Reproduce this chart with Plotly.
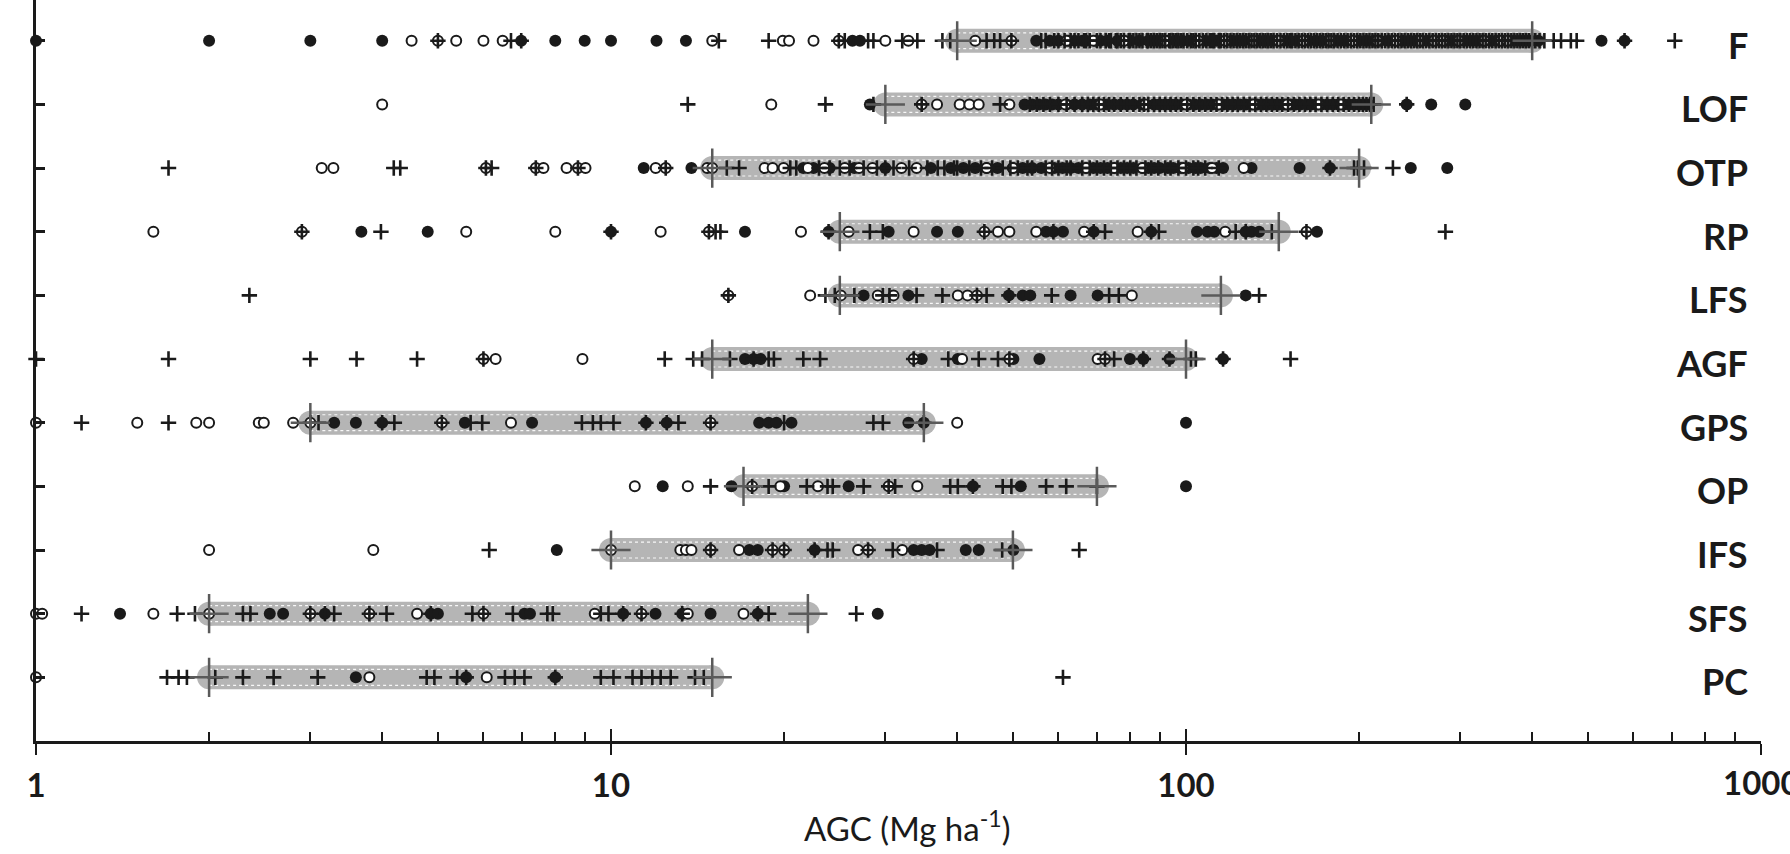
import plotly.graph_objects as go

# ---------------- data (AGC, Mg ha-1) ----------------
categories = ["F", "LOF", "OTP", "RP", "LFS", "AGF", "GPS", "OP", "IFS", "SFS", "PC"]
band_low = [40, 30, 15, 25, 25, 15, 3, 17, 10, 2, 2]
band_high = [400, 210, 200, 145, 115, 100, 35, 70, 50, 22, 15]

F_filled = [1, 2, 3, 4, 6.98, 8, 9, 10, 12, 13.5, 26.3, 27.1, 54.9, 58, 60, 62.5, 64, 66, 67, 69.5,
            71, 73, 76, 78, 80, 83, 86, 88, 90, 93, 96, 98.5, 101, 104, 108, 110.5, 113, 117, 120,
            123, 126, 130, 134, 137, 141, 144, 148, 152, 156, 160, 163, 168, 172, 177, 182, 186,
            190, 195, 200, 206, 212, 218, 225, 231, 238, 244, 250, 256, 262, 269, 276, 283, 290,
            297, 305, 312, 320, 328, 338, 346, 355, 363, 372, 381, 390, 398, 410, 528, 579]
F_open = [4.5, 5.0, 5.38, 6.0, 6.48, 15.0, 19.9, 20.4, 22.5, 24.9, 30.0, 32.9, 43, 49.7, 62, 69, 78,
          92, 105, 117, 131, 145, 160, 178, 195, 215, 232, 255, 270, 280, 298, 330, 353, 362]
F_plus = [5.0, 6.7, 6.98, 15.4, 18.8, 24.9, 25.5, 28.0, 28.6, 32.1, 34.1, 37.7, 38.9, 45, 46.4, 47.5,
          49.7, 56, 57, 59, 60, 61.5, 63, 64, 65, 66.5, 67, 68, 70, 71, 72.5, 73.5, 74, 75.5, 76, 77,
          78, 79.5, 80, 81, 82, 83, 84, 85.5, 86, 87, 88, 89, 90, 91, 92, 93.5, 94, 95, 96, 97, 98,
          99, 100.5, 102, 103, 104, 105.5, 107, 108.5, 110, 111, 112, 114, 115, 116.5, 118, 119.5,
          121, 122.5, 124, 125.5, 127, 128.5, 130, 131.5, 133, 134.5, 136, 137.5, 139, 140.5, 142,
          144, 146, 148, 150, 151.5, 153, 155, 157, 159, 161, 163, 165, 167, 169, 171, 173, 175,
          177, 179, 181, 183.5, 186, 188.5, 191, 193.5, 196, 198.5, 201, 203.5, 206, 208.5, 211,
          213.5, 216, 219, 222, 225, 228, 231, 234, 237, 240, 243, 246, 249, 252, 255, 258, 261.5,
          265, 268.5, 272, 275.5, 279, 282.5, 286, 289.5, 293, 296.5, 300, 304, 308, 312, 316, 320,
          324, 328, 332, 336.5, 341, 345.5, 350, 354.5, 359, 363.5, 368, 372.5, 377, 381.5, 386,
          390.5, 395, 400, 405, 412, 420, 436, 449, 467, 478, 579, 708]

LOF_filled = [28.2, 52.4, 54, 55.5, 57, 58.5, 60, 62, 64, 66, 68, 70, 73, 75, 77, 79, 81, 84, 88, 90,
              92, 94, 96, 98.5, 101, 103.5, 106, 108.5, 111, 113.5, 116, 118.5, 121, 124, 127, 130,
              133, 136, 139, 142, 145, 148.5, 152, 155, 158, 162, 165, 168.5, 172, 176, 180, 184,
              188, 192, 196, 200, 204, 208, 242, 267, 306]
LOF_open = [4.0, 19.0, 34.7, 36.9, 40.4, 42.0, 43.6, 49.3, 61.7, 71, 85, 100, 114, 131, 150, 170, 186]
LOF_plus = [13.6, 23.6, 28.6, 34.7, 47.5, 53.5, 55, 56.5, 58, 60, 62, 64, 66, 67.5, 69, 70.5, 72,
            73.5, 75, 77, 79, 81, 83, 84.5, 86, 88, 90, 92, 94, 96, 98, 100.5, 103, 105.5, 108,
            110.5, 113, 115.5, 118, 120.5, 123, 126, 129, 132, 135, 138, 141, 144, 147, 150.5, 154,
            157.5, 161, 164.5, 168, 172, 176, 180, 184, 188, 192, 196, 200, 203, 206, 209, 212, 242]

OTP_filled = [11.4, 13.8, 21.6, 22.5, 24, 26.5, 30, 36, 39, 41, 43, 45, 47, 50, 52, 54, 56, 59, 61,
              63, 65, 67, 69, 71, 73, 75, 77, 79, 81, 84, 86, 88, 90, 93, 95, 98, 101, 104, 106, 110,
              113, 116, 130, 157.6, 178, 246, 284.7]
OTP_open = [3.14, 3.29, 6.06, 7.4, 7.63, 8.37, 8.76, 9.03, 11.96, 12.45, 14.7, 15.0, 18.5, 19.1,
            19.96, 22, 23.5, 25.5, 27, 28.5, 32, 34, 45, 50, 58, 67, 75, 84, 99, 111, 126]
OTP_plus = [1.70, 4.19, 4.30, 6.06, 6.2, 7.4, 8.76, 12.45, 15.9, 16.7, 20.5, 21, 23, 24, 25, 26,
            27.5, 29, 30, 31, 33, 35.5, 37, 38, 39.5, 40, 42, 44, 46, 48, 49.5, 51, 53, 54, 57, 58.5,
            60, 62, 63, 66, 68, 70, 72, 74, 76, 78, 80, 82, 85, 87, 89.5, 92, 94, 97, 100, 103, 105,
            108, 114, 178, 196, 199, 204, 229]

RP_filled = [3.68, 4.8, 10.0, 17.1, 23.9, 30.4, 36.9, 40.1, 57.1, 58.8, 61.1, 69.1, 87, 104.5, 109,
             112, 127, 130, 134, 169]
RP_open = [1.6, 2.9, 5.6, 8.0, 12.2, 14.8, 21.4, 25.9, 33.6, 44.6, 47.1, 49.3, 54.9, 66.5, 82.4, 117,
           162]
RP_plus = [2.9, 3.98, 10.0, 14.8, 15.2, 15.5, 23.9, 28.2, 29.7, 44.6, 58.8, 69.1, 72.3, 87, 89.7,
           122, 127, 141, 162, 282.6]

LFS_filled = [27.5, 32.9, 49.2, 52, 53.6, 63, 70.2, 127]
LFS_open = [16.0, 22.2, 25.1, 29.1, 31, 40.1, 41.7, 43.3, 80.5]
LFS_plus = [2.35, 16.0, 23.6, 24.5, 26.5, 29.7, 30.5, 34, 37.7, 43.3, 45, 49.2, 58.4, 73.5, 76.4, 134]

AGF_filled = [17.1, 17.7, 18.2, 34.7, 40.1, 50.1, 55.6, 79.9, 84.3, 93.6, 116]
AGF_open = [6.0, 6.3, 8.92, 33.6, 40.8, 49.3, 70.2, 72.3]
AGF_plus = [1.0, 1.70, 3.0, 3.61, 4.6, 6.0, 12.4, 13.9, 14.4, 16.1, 17.7, 18.8, 19.2, 21.6, 23.1,
            33.6, 38.6, 43.6, 47.1, 49.3, 72.3, 75, 84.3, 93.6, 102, 104, 116, 152]

GPS_filled = [3.3, 3.6, 4.0, 5.57, 7.29, 11.5, 12.5, 18.1, 18.8, 19.4, 20.6, 32.9, 35, 100]
GPS_open = [1.0, 1.5, 1.9, 2.0, 2.44, 2.49, 2.8, 3.0, 5.08, 6.7, 14.9, 40.0]
GPS_plus = [1.2, 1.7, 3.0, 3.1, 4.0, 4.2, 5.08, 5.7, 5.97, 8.9, 9.3, 9.6, 10.1, 11.5, 12.5, 13.1,
            14.9, 20.0, 28.6, 29.7, 35]

OP_filled = [12.3, 16.2, 20.0, 25.9, 42.6, 51.6, 100]
OP_open = [11.0, 13.6, 17.6, 19.7, 22.9, 30.4, 34.1]
OP_plus = [14.9, 17.6, 18.8, 21.9, 23.8, 24.3, 27.5, 30.4, 31.2, 38.9, 40.1, 42.6, 48, 49.7, 57.1,
           61.9, 70]

IFS_filled = [8.05, 14.9, 17.4, 18.0, 22.6, 33.6, 34.7, 35.8, 41.4, 43.6, 50.1]
IFS_open = [2.0, 3.86, 10.0, 13.2, 13.5, 13.8, 14.9, 16.7, 19.1, 20.0, 26.9, 28.0, 32.1]
IFS_plus = [6.14, 14.9, 19.1, 20.0, 22.6, 23.8, 24.3, 28.0, 30.9, 36.9, 47.9, 65.2]

SFS_filled = [1.4, 2.55, 2.69, 3.18, 4.86, 5.0, 7.07, 7.23, 10.5, 11.95, 13.3, 14.9, 18.0, 29.1]
SFS_open = [1.0, 1.025, 1.6, 2.0, 3.0, 3.8, 4.6, 6.0, 9.37, 11.3, 13.6, 17.0]
SFS_plus = [1.2, 1.76, 1.89, 2.29, 2.36, 3.0, 3.18, 3.3, 3.8, 4.07, 4.86, 5.74, 6.0, 6.75, 7.75,
            7.92, 9.6, 9.9, 10.5, 11.3, 13.3, 18.0, 18.8, 26.7]

PC_filled = [3.6, 5.6, 8.0]
PC_open = [1.0, 3.8, 6.08]
PC_plus = [1.69, 1.77, 1.83, 2.05, 2.29, 2.59, 3.09, 4.78, 4.93, 5.4, 5.6, 6.54, 6.8, 7.07, 8.0, 9.6,
           10.1, 10.9, 11.3, 11.8, 12.2, 12.7, 14.0, 14.5, 61.1]

filled_sets = [F_filled, LOF_filled, OTP_filled, RP_filled, LFS_filled, AGF_filled,
               GPS_filled, OP_filled, IFS_filled, SFS_filled, PC_filled]
open_sets = [F_open, LOF_open, OTP_open, RP_open, LFS_open, AGF_open,
             GPS_open, OP_open, IFS_open, SFS_open, PC_open]
plus_sets = [F_plus, LOF_plus, OTP_plus, RP_plus, LFS_plus, AGF_plus,
             GPS_plus, OP_plus, IFS_plus, SFS_plus, PC_plus]

x_tick_vals = [1, 10, 100, 1000]
x_tick_text = ["1", "10", "100", ""]
last_tick_label = "1000"
x_minor_vals = [m * d for d in (1, 10, 100) for m in range(2, 10)]
x_title = "AGC (Mg ha<sup>-1</sup>)"

# ---------------- figure ----------------
INK = "#1a1a1a"
BAND = "#b5b5b5"
ENDC = "#5a5a5a"
FONT = "Lato"
n = len(categories)
rows = [n - i for i in range(n)]          # F at top (11) ... PC at bottom (1)
dot_off = 0.125                           # offset of the white dotted texture lines

fig = go.Figure()

# grey bands with rounded ends
for r, lo, hi in zip(rows, band_low, band_high):
    fig.add_trace(go.Scatter(x=[lo, hi], y=[r, r], mode="lines+markers",
                             line=dict(color=BAND, width=24),
                             marker=dict(symbol="circle", size=24, color=BAND, line=dict(width=0)),
                             hoverinfo="skip", cliponaxis=False))
    for off in (dot_off, -dot_off):
        fig.add_trace(go.Scatter(x=[lo, hi], y=[r + off, r + off], mode="lines",
                                 line=dict(color="rgba(255,255,255,0.9)", width=1.2, dash="dot"),
                                 hoverinfo="skip"))

def flat(sets):
    xs, ys = [], []
    for r, s in zip(rows, sets):
        xs += list(s)
        ys += [r] * len(s)
    return xs, ys

fx, fy = flat(filled_sets)
fig.add_trace(go.Scatter(x=fx, y=fy, mode="markers", cliponaxis=False,
                         marker=dict(symbol="circle", size=12, color=INK, line=dict(width=0))))
ox, oy = flat(open_sets)
fig.add_trace(go.Scatter(x=ox, y=oy, mode="markers", cliponaxis=False,
                         marker=dict(symbol="circle", size=10, color="white",
                                     line=dict(width=2, color=INK))))
px_, py_ = flat(plus_sets)
fig.add_trace(go.Scatter(x=px_, y=py_, mode="markers", cliponaxis=False,
                         marker=dict(symbol="cross-thin", size=11, color=INK,
                                     line=dict(width=2.6, color=INK))))

# band end crosses
ex = band_low + band_high
ey = rows + rows
fig.add_trace(go.Scatter(x=ex, y=ey, mode="markers", cliponaxis=False,
                         marker=dict(symbol="cross-thin", size=28, color=ENDC,
                                     line=dict(width=2.5, color=ENDC))))

# helper axis for the inner half of the major x ticks
fig.add_trace(go.Scatter(x=[1], y=[0], xaxis="x2", mode="markers",
                         marker=dict(size=1, opacity=0), hoverinfo="skip"))

for r, name in zip(rows, categories):
    fig.add_annotation(x=0.9936, xref="paper", y=r, yref="y", text=name, showarrow=False,
                       xanchor="right", yanchor="middle", yshift=-4,
                       font=dict(family=FONT, size=36, color=INK, weight="bold"))

# the last tick label runs past the page edge, as in the original
fig.add_annotation(x=3, xref="x", y=0, yref="paper", text=last_tick_label, showarrow=False,
                   xanchor="center", yanchor="middle", yshift=-41,
                   font=dict(family=FONT, size=33, color=INK, weight="bold"))

# axis title (slightly right of the plot centre, as in the original)
fig.add_annotation(x=0.5, xref="paper", y=0, yref="paper", text=x_title, showarrow=False,
                   xanchor="center", yanchor="middle", xshift=8, yshift=-85,
                   font=dict(family=FONT, size=33, color=INK))

fig.update_layout(
    width=1790, height=854,
    margin=dict(l=36, r=29, t=0, b=113),
    paper_bgcolor="white", plot_bgcolor="white",
    showlegend=False,
    xaxis=dict(type="log", range=[0, 3], showgrid=False, zeroline=False,
               showline=True, linecolor=INK, linewidth=2.5,
               tickvals=x_tick_vals, ticktext=x_tick_text,
               ticks="outside", ticklen=11, tickwidth=2, tickcolor=INK,
               ticklabelstandoff=3,
               tickfont=dict(family=FONT, size=33, color=INK, weight="bold"),
               minor=dict(tickvals=x_minor_vals, ticks="inside", ticklen=9, tickwidth=2,
                          tickcolor=INK, showgrid=False)),
    xaxis2=dict(type="log", range=[0, 3], overlaying="x", anchor="y", side="bottom",
                showgrid=False, zeroline=False, showline=False,
                tickvals=x_tick_vals, ticks="inside", ticklen=12, tickwidth=2,
                tickcolor=INK, showticklabels=False),
    yaxis=dict(range=[0, 11.64], showgrid=False, zeroline=False,
               showline=True, linecolor=INK, linewidth=2.5,
               tickvals=list(range(0, 12)), ticks="inside", ticklen=9, tickwidth=2.5,
               tickcolor=INK, showticklabels=False),
)

fig.write_html("out.html")
